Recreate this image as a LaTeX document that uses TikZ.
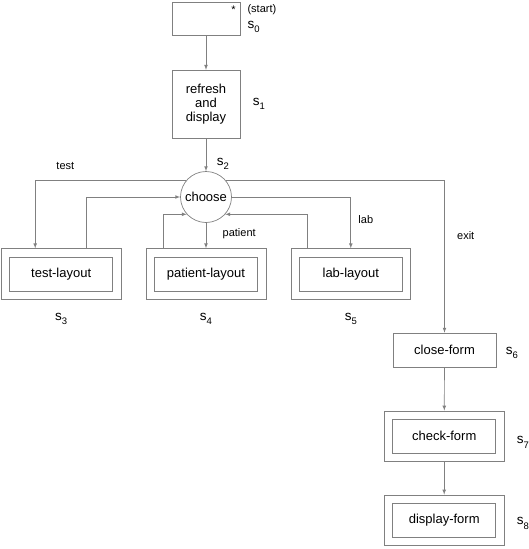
\documentclass[tikz,border=0pt]{standalone}
\usepackage{fontspec}
\setmainfont{Liberation Sans}
\usetikzlibrary{shapes,backgrounds,arrows,fit,positioning}

\newcommand{\statelbl}[1]{s\raisebox{-4.5pt}{\fontsize{9.5}{10}\selectfont #1}}

\tikzset{
  line/.style={draw=gray, line width=0.7pt},
  statebox/.style={line, minimum width=103pt, minimum height=34pt, font=\fontsize{13}{15}\selectfont},
  outerbox/.style={line, inner sep=8pt},
  lbl/.style={font=\fontsize{11}{13}\selectfont},
  snum/.style={font=\fontsize{13.5}{16}\selectfont},
}

\begin{document}
\begin{tikzpicture}[x=1pt, y=-1pt, auto]
\useasboundingbox (0,0) rectangle (529,549);
\node [line, minimum width=68pt, minimum height=33pt] (start) at (206,18.5) {};
\node [below left, inner sep=4.5pt, lbl] (star) at (start.north east) {*};
\node [lbl, anchor=west] (startlbl) at (244,10) {(start)};
\node [snum, anchor=west] (s0) at (244,27) {\statelbl{0}};
\node [line, minimum width=68pt, minimum height=67.7pt, align=center, font=\fontsize{13}{14}\selectfont] (refresh) at (206,104) {refresh\\and\\display};
\node [snum, right=9pt of refresh] (s1) {\statelbl{1}};
\node [circle, line, minimum size=51pt, inner sep=0pt, font=\fontsize{13}{15}\selectfont] (choose) at (206,197) {choose};
\node [snum] (s2) at (223,164) {\statelbl{2}};

\node [statebox] (testin) at (61.2,274) {test-layout};
\node [outerbox, fit=(testin)] (test) {};
\node [statebox] (patientin) at (206,274) {patient-layout};
\node [outerbox, fit=(patientin)] (patient) {};
\node [statebox] (labin) at (350.8,274) {lab-layout};
\node [outerbox, fit=(labin)] (lab) {};
\node [snum, below=10pt of test] (s3) {\statelbl{3}};
\node [snum, below=10pt of patient] (s4) {\statelbl{4}};
\node [snum, below=10pt of lab] (s5) {\statelbl{5}};

\node [statebox] (close) at (444.5,350) {close-form};
\node [snum, right=6pt of close, yshift=-3pt] (s6) {\statelbl{6}};
\node [statebox] (checkin) at (444.2,436.3) {check-form};
\node [outerbox, fit=(checkin)] (check) {};
\node [snum, right=9pt of check, yshift=-6pt] (s7) {\statelbl{7}};
\node [statebox] (displayin) at (444.2,520.3) {display-form};
\node [outerbox, fit=(displayin)] (display) {};
\node [snum, right=9pt of display, yshift=-3pt] (s8) {\statelbl{8}};

\draw [line, -latex] (start) -- (refresh);
\draw [line, -latex] (refresh) -- (choose);
\draw [line, -latex] (choose.141) -| ([xshift=-26pt]test.north) node [lbl, pos=0.4, above=7pt] {test};
\draw [line, -latex] ([xshift=25pt]test.north) |- (choose.west);
\draw [line, -latex] (choose.south) -- (patient.north) node [lbl, pos=0.41, right=13pt] {patient};
\draw [line, -latex] ([xshift=-43pt]patient.north) |- (choose.222);
\draw [line, -latex] (choose.east) -| (lab.north) node [lbl, pos=0.72, right=4pt] {lab};
\draw [line, -latex] ([xshift=-43pt]lab.north) |- (choose.318);
\draw [line, -latex] (choose.39) -| (close.north) node [lbl, pos=0.68, right=9pt] {exit};
\draw [line, -latex] (close) -- (check);
\draw [line, -latex] (check) -- (display);
\end{tikzpicture}
\end{document}
